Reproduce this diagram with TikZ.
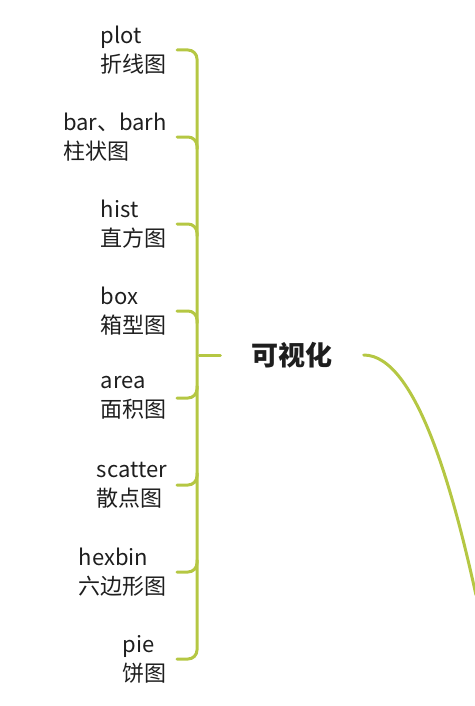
\documentclass[tikz,border=0pt]{standalone}
\usepackage{fontspec}
\setmainfont{Noto Sans CJK SC}
\usepackage{tikz}
\usetikzlibrary{calc}
\usepackage{xcolor}
\definecolor{olive}{RGB}{181,199,67}
\definecolor{ink}{RGB}{30,30,30}

\begin{document}
\begin{tikzpicture}[x=1pt, y=-1pt,
    branch/.style={draw=olive, line width=3pt, line cap=round},
    leaf/.style={anchor=east, align=left, inner xsep=10pt, inner ysep=0pt,
      font=\fontsize{22}{29}\selectfont, text=ink},
    topic/.style={inner xsep=31pt, font=\fontsize{27}{30}\selectfont\bfseries, text=ink}]
  \useasboundingbox (0,0) rectangle (474,706);
  \foreach \i/\name/\en/\zh in {0/plot/plot/折线图, 1/bar/bar、barh/柱状图,
      2/hist/hist/直方图, 3/box/box/箱型图, 4/area/area/面积图,
      5/scatter/scatter/散点图, 6/hexbin/hexbin/六边形图, 7/pie/pie/饼图}{
    \node[leaf] (\name) at (177,50+87*\i) {\en\\\zh};
  }
  \node[topic] (vis) at (292,355) {可视化};
  % the brace
  \draw[branch, rounded corners=9pt] (plot.east) -| ($(pie.east)+(20,0)$) -- (pie.east);
  \foreach \name in {bar, hist, box}
    \draw[branch, rounded corners=9pt] (\name.east) -| ++(20,12);
  \foreach \name in {area, scatter, hexbin}
    \draw[branch, rounded corners=9pt] (\name.east) -| ++(20,-12);
  \draw[branch] (vis.west) -- ++(-21,0);
  \coordinate (tail) at (476,595);
  \draw[branch] (vis.east) .. controls +(54,0) and (455,500) .. (tail);
\end{tikzpicture}
\end{document}
